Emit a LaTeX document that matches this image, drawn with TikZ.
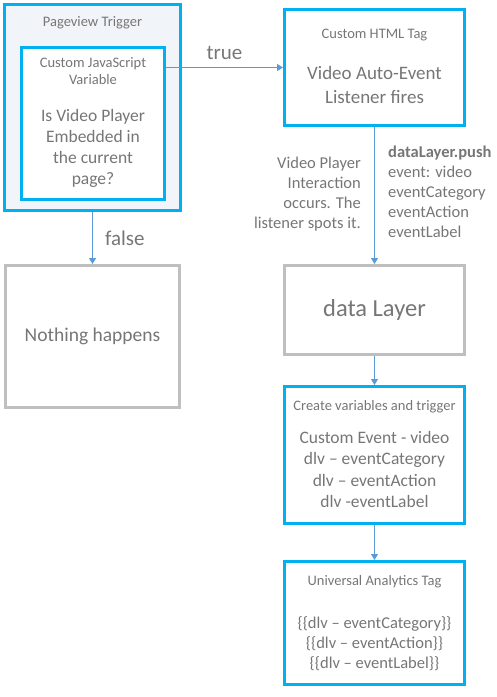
\documentclass[tikz,border=0pt]{standalone}
\usepackage{fontspec}
\setmainfont{Carlito}
\usetikzlibrary{positioning, arrows.meta}

\definecolor{boxblue}{RGB}{0,176,240}
\definecolor{boxgray}{RGB}{191,191,191}
\definecolor{txtgray}{RGB}{118,118,118}
\definecolor{flowblue}{RGB}{91,155,213}
\definecolor{trigfill}{RGB}{241,245,249}

\tikzset{
    bluebox/.style={draw=boxblue, line width=3pt, rectangle, inner sep=0pt},
    graybox/.style={draw=boxgray, line width=3pt, rectangle, inner sep=0pt},
    boxtitle/.style={text=txtgray, align=center, inner sep=0pt, font=\fontsize{14.5}{17}\selectfont},
    boxtext/.style={text=txtgray, align=center, inner sep=0pt},
    flow/.style={draw=flowblue, line width=1pt, -{Triangle[length=6pt, width=7pt]}},
}

\begin{document}
\begin{tikzpicture}[x=1pt, y=-1pt]
    \useasboundingbox (0, 0) rectangle (496, 697);

    % left column
    \node (trigger) [bluebox, fill=trigfill, minimum width=176pt, minimum height=206pt] at (92.5, 107.5) {};
    \node (trigtitle) [boxtitle] at (92.5, 23) {Pageview Trigger};
    \node (jsvar) [bluebox, fill=white, minimum width=143pt, minimum height=152pt] at (93, 123.5) {};
    \node (jstitle) [boxtitle] at (93, 71.5) {Custom JavaScript\\Variable};
    \node (jsquestion) [boxtext, font=\fontsize{17.5}{21}\selectfont] at (93, 148.5) {Is Video Player\\Embedded in\\the current\\page?};
    \node (nothing) [graybox, minimum width=174pt, minimum height=142pt, boxtext, font=\fontsize{19.5}{24}\selectfont] at (92.5, 336.5) {Nothing happens};

    % right column
    \node (htmltag) [bluebox, minimum width=180pt, minimum height=116pt] at (374.5, 67.5) {};
    \node (htmltitle) [boxtitle] at (374.5, 35) {Custom HTML Tag};
    \node (htmltext) [boxtext, font=\fontsize{19}{24}\selectfont] at (374.5, 85) {Video Auto-Event\\Listener fires};
    \node (datalayer) [graybox, minimum width=180pt, minimum height=89pt, boxtext, font=\fontsize{24.5}{29}\selectfont] at (374.5, 310) {data Layer};
    \node (createvars) [bluebox, minimum width=180pt, minimum height=137pt] at (374.5, 455) {};
    \node (createtitle) [boxtitle] at (374.5, 407) {Create variables and trigger};
    \node (createtext) [boxtext, font=\fontsize{17.5}{21.5}\selectfont] at (374.5, 469.5) {Custom Event - video\\dlv -- eventCategory\\dlv -- eventAction\\dlv -eventLabel};
    \node (uatag) [bluebox, minimum width=180pt, minimum height=123pt] at (374.5, 623) {};
    \node (uatitle) [boxtitle] at (374.5, 582) {Universal Analytics Tag};
    \node (uatext) [boxtext, font=\fontsize{16.5}{20}\selectfont] at (374.5, 644) {\{\{dlv -- eventCategory\}\}\\\{\{dlv -- eventAction\}\}\\\{\{dlv -- eventLabel\}\}};

    % connectors
    \draw [flow] (jsvar.east |- htmltag.west) -- (htmltag.west) node [midway, above=7pt, boxtext, font=\fontsize{21}{25}\selectfont] (truelabel) {true};
    \draw [flow] (trigger.south) -- (nothing.north) node [midway, right=12pt, boxtext, font=\fontsize{21}{25}\selectfont] (falselabel) {false};
    \draw [flow] (htmltag.south) -- (datalayer.north);
    \draw [flow] (datalayer.south) -- (createvars.north);
    \draw [flow] (createvars.south) -- (uatag.north);

    % notes beside the listener arrow
    \node (interaction) [boxtext, align=right, anchor=east, font=\fontsize{16.5}{20}\selectfont] at (361, 194) {Video Player\\Interaction\\occurs. The\\listener spots it.};
    \node (pushnote) [boxtext, align=left, anchor=west, font=\fontsize{16.5}{20}\selectfont] at (388, 192) {\textbf{dataLayer.push}\\event: video\\eventCategory\\eventAction\\eventLabel};
\end{tikzpicture}
\end{document}
